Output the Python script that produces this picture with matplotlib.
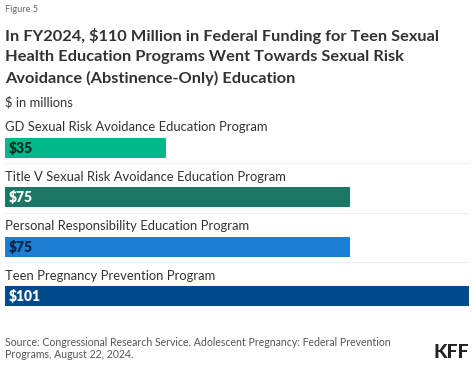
import matplotlib.pyplot as plt

programs = ["GD Sexual Risk Avoidance Education Program",
            "Title V Sexual Risk Avoidance Education Program",
            "Personal Responsibility Education Program",
            "Teen Pregnancy Prevention Program"]
funding = [35, 75, 75, 101]
bar_colors = ["#00b98b", "#1b7663", "#1d7fd4", "#004a8c"]
value_colors = ["#0f2a22", "#ffffff", "#0a2240", "#ffffff"]

title_lines = ["In FY2024, $110 Million in Federal Funding for Teen Sexual",
               "Health Education Programs Went Towards Sexual Risk",
               "Avoidance (Abstinence-Only) Education"]
source_lines = ["Source: Congressional Research Service. Adolescent Pregnancy: Federal Prevention",
                "Programs, August 22, 2024."]

plt.rcParams['font.family'] = ['Lato', 'DejaVu Sans']

W, H = 474, 365
fig = plt.figure(figsize=(W / 100, H / 100), dpi=100)
fig.patch.set_facecolor("white")

def fy(px):
    return 1 - px / H

# bars axis
ax = fig.add_axes([5 / W, fy(316), 464 / W, 198 / H])
ax.set_xlim(0, 101)
ax.set_ylim(3.4, -0.6)
ax.axis("off")

ys = range(len(programs))
ax.barh(list(ys), funding, height=0.41, color=bar_colors)
for i in ys:
    ax.text(0.8, i, f"${funding[i]}", va="center", ha="left", fontsize=10,
            fontweight="heavy", color=value_colors[i])
    ax.text(0, i - 0.41, programs[i], va="center", ha="left", fontsize=9.4,
            color="#333333")
    if i < len(programs) - 1:
        ax.plot([0, 101], [i + 0.31, i + 0.31], color="#eeeeee", lw=0.8,
                clip_on=False)

# headings
fig.text(5 / W, fy(10), "Figure 5", fontsize=6.6, color="#666666", va="center")
for k, line in enumerate(title_lines):
    fig.text(5 / W, fy(36 + 21 * k), line, fontsize=11.8, fontweight="bold",
             color="#333333", va="center")
fig.text(5 / W, fy(102), "$ in millions", fontsize=9.4, color="#333333",
         va="center")

for k, line in enumerate(source_lines):
    fig.text(5 / W, fy(342 + 13 * k), line, fontsize=7.6, color="#555555",
             va="center")
fig.text(469 / W, fy(352), "KFF", fontsize=14, fontweight="black",
         color="#222222", va="center", ha="right")

fig.savefig("out.png", dpi=100)
